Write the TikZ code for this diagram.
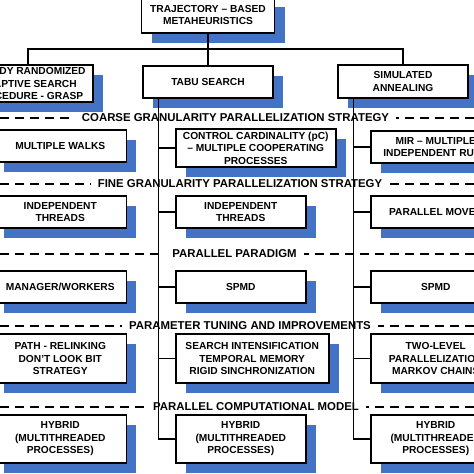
\documentclass[tikz,border=0pt]{standalone}
\usepackage{fontspec}
\setmainfont{Liberation Sans}
\usepackage{tikz}
\usetikzlibrary{positioning, shadows, calc}
\usepackage{xcolor}
\definecolor{shadowblue}{RGB}{68,114,196}

\begin{document}
\begin{tikzpicture}[x=1pt, y=-1pt,
  every node/.style={font=\fontsize{10.2}{12.5}\selectfont\bfseries, align=center},
  box/.style={draw, line width=1.5pt, fill=white, inner sep=2pt, minimum height=32pt,
              drop shadow={shadow xshift=10pt, shadow yshift=-10pt,
                           fill=shadowblue, opacity=1}},
  leftbox/.style={box, anchor=east, minimum width=132pt},
  midbox/.style={box, anchor=west, minimum width=130pt},
  rightbox/.style={box, anchor=west, minimum width=130pt},
  tallbox/.style={minimum height=49pt},
  level/.style={fill=white, inner xsep=7pt, inner ysep=0.5pt,
                font=\fontsize{11.4}{13}\selectfont\bfseries},
  sepline/.style={line width=1.5pt, dash pattern=on 9pt off 6pt},
  link/.style={line width=1.2pt}
]
\useasboundingbox (0,0) rectangle (474,474);
\clip (0,0) rectangle (474,474);

%--- Strategy levels ---
\foreach \yy/\xx/\txt [count=\i] in {
    118/235.5/COARSE GRANULARITY PARALLELIZATION STRATEGY,
    184/240/FINE GRANULARITY PARALLELIZATION STRATEGY,
    254/234.5/PARALLEL PARADIGM,
    326/250/PARAMETER TUNING AND IMPROVEMENTS,
    407/256/PARALLEL COMPUTATIONAL MODEL}{
  \coordinate (sepL\i) at (0,\yy);
  \coordinate (sepR\i) at (474,\yy);
  \draw[sepline] (sepL\i) -- (sepR\i);
  \node[level] (lvl\i) at (\xx,\yy) {\txt};
}

%--- Metaheuristics ---
\node[box, minimum width=133pt, minimum height=36pt] (traj) at (208,15)
  {TRAJECTORY – BASED\\METAHEURISTICS};
\node[box, minimum width=130pt, minimum height=37pt] (grasp) at (28,83.5)
  {GREEDY RANDOMIZED\\ADAPTIVE SEARCH\\PROCEDURE - GRASP};
\node[box, minimum width=130pt] (tabu) at (208,82) {TABU SEARCH};
\node[box, minimum width=130pt, minimum height=33pt] (sa) at (403,81.5)
  {SIMULATED\\ANNEALING};

%--- Coarse granularity ---
\node[leftbox]  (mw)  at (127,146) {MULTIPLE WALKS};
\node[midbox, minimum width=160pt, minimum height=38pt] (cc) at (175,148)
  {CONTROL CARDINALITY (pC)\\– MULTIPLE COOPERATING\\PROCESSES};
\node[rightbox] (mir) at (370,147) {MIR – MULTIPLE\\INDEPENDENT RUNS};

%--- Fine granularity ---
\node[leftbox]  (it1) at (127,212) {INDEPENDENT\\THREADS};
\node[midbox]   (it2) at (175,212) {INDEPENDENT\\THREADS};
\node[rightbox] (pm)  at (370,212) {PARALLEL MOVES};

%--- Paradigm ---
\node[leftbox]  (mgr) at (127,287) {MANAGER/WORKERS};
\node[midbox]   (sp2) at (175,287) {SPMD};
\node[rightbox] (sp3) at (370,287) {SPMD};

%--- Tuning ---
\node[leftbox, tallbox]  (pr) at (127,358.5)
  {PATH - RELINKING\\DON'T LOOK BIT\\STRATEGY};
\node[midbox, tallbox, minimum width=153pt] (si) at (175,358.5)
  {SEARCH INTENSIFICATION\\TEMPORAL MEMORY\\RIGID SINCHRONIZATION};
\node[rightbox, tallbox] (tl) at (370,358.5)
  {TWO-LEVEL\\PARALLELIZATION\\MARKOV CHAINS};

%--- Computational model ---
\node[leftbox, minimum height=48pt]  (hy1) at (127,439)
  {HYBRID\\(MULTITHREADED\\PROCESSES)};
\node[midbox, minimum height=48pt]   (hy2) at (175,439)
  {HYBRID\\(MULTITHREADED\\PROCESSES)};
\node[rightbox, minimum height=48pt] (hy3) at (370,439)
  {HYBRID\\(MULTITHREADED\\PROCESSES)};

%--- Tree ---
\coordinate (bus) at (208,49);
\draw[link] (traj.south) -- (tabu.north);
\draw[link] (grasp.north) |- (bus) -| (sa.north);

\coordinate (tabuspine) at ($(tabu.south west)+(16,0)$);
\coordinate (saspine) at ($(sa.south west)+(16,0)$);
\foreach \n in {cc, it2, sp2, si, hy2}
  \draw[link] (tabuspine) |- (\n.west);
\foreach \n in {mir, pm, sp3, tl, hy3}
  \draw[link] (saspine) |- (\n.west);

\end{tikzpicture}
\end{document}
